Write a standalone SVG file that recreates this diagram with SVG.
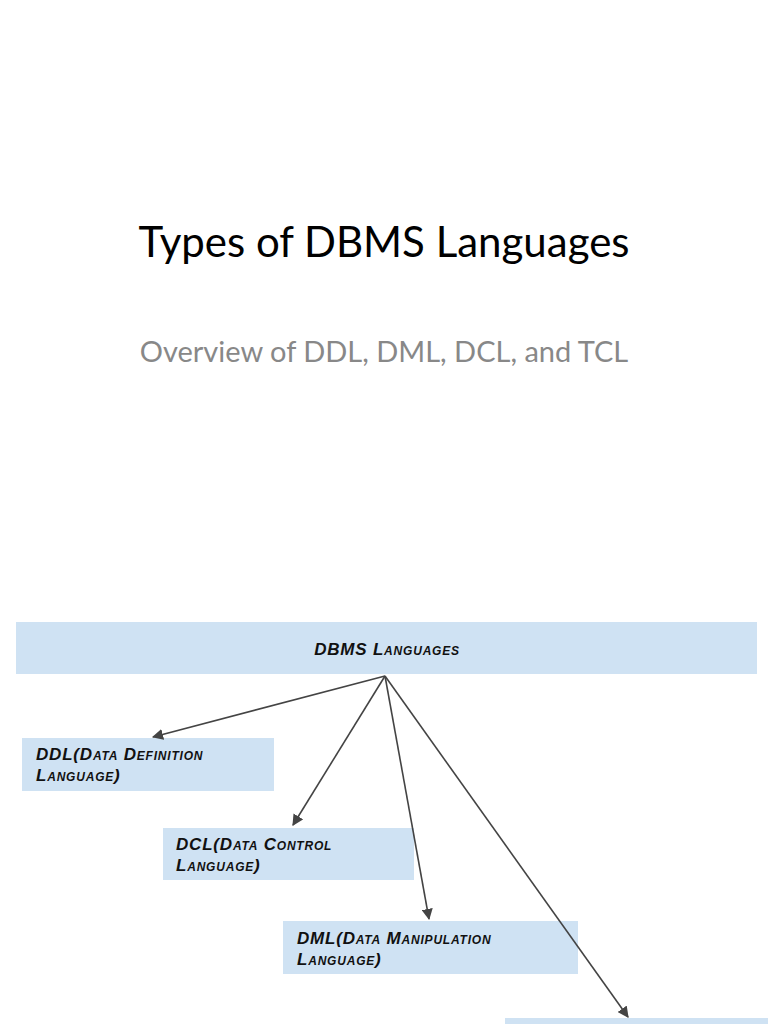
<svg xmlns="http://www.w3.org/2000/svg" width="768" height="1024" viewBox="0 0 768 1024">
<defs>
<marker id="ah" viewBox="0 0 10 10" refX="9" refY="5" markerWidth="7" markerHeight="7" orient="auto"><path d="M0,0 L10,5 L0,10 z" fill="#444"/></marker>
<style>
.box{fill:#cfe2f3}
.lbl{font-family:"Liberation Sans",sans-serif;font-weight:bold;font-style:italic;font-variant:small-caps;font-size:17px;letter-spacing:0.8px;fill:#111}
.con{stroke:#444;stroke-width:1.6;fill:none;marker-end:url(#ah)}
</style>
</defs>
<rect width="768" height="1024" fill="#fff"/>
<text x="384" y="257" text-anchor="middle" font-family="Lato, sans-serif" font-size="42" fill="#000">Types of DBMS Languages</text>
<text x="384" y="362" text-anchor="middle" font-family="Lato, sans-serif" font-size="29" fill="#888">Overview of DDL, DML, DCL, and TCL</text>
<g id="root"><rect class="box" x="16" y="622" width="741" height="52"/><text class="lbl" x="387" y="655" text-anchor="middle" font-size="19">DBMS Languages</text></g>
<g id="ddl"><rect class="box" x="22" y="738" width="252" height="53"/><text class="lbl" x="36" y="760">DDL(Data Definition</text><text class="lbl" x="36" y="781">Language)</text></g>
<g id="dcl"><rect class="box" x="163" y="828" width="251" height="52"/><text class="lbl" x="176" y="850">DCL(Data Control</text><text class="lbl" x="176" y="871">Language)</text></g>
<g id="dml"><rect class="box" x="283" y="921" width="295" height="53"/><text class="lbl" x="297" y="944">DML(Data Manipulation</text><text class="lbl" x="297" y="965">Language)</text></g>
<g id="tcl"><rect class="box" x="505" y="1018" width="263" height="10"/></g>
<g id="connectors">
<line class="con" x1="385" y1="676" x2="153" y2="737"/>
<line class="con" x1="385" y1="676" x2="293" y2="825"/>
<line class="con" x1="385" y1="676" x2="429" y2="919"/>
<line class="con" x1="385" y1="676" x2="628" y2="1017"/>
</g>
</svg>
